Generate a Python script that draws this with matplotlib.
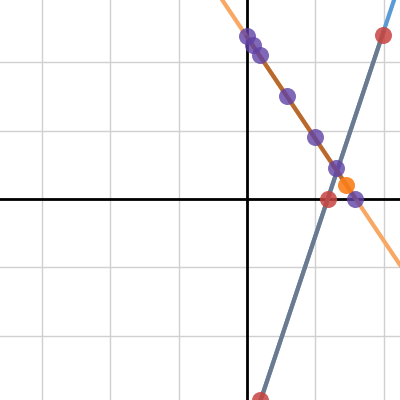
import matplotlib
matplotlib.use("Agg")
import matplotlib.pyplot as plt
import numpy as np

S = 68.4
xlim = (-247/S, 153/S)
ylim = (-201/S, 199/S)

# steep line y = m*(x - x0)
steep_m = 3.0
steep_x0 = 1.18
# falling line
fall_m = -1.49
fall_b = 2.37
red_x = [1.18, 0.19, 1.99]
red_y = [0.0, -2.94, 2.40]
purple_x = [0.0, 0.088, 0.19, 0.585, 0.994, 1.30, 1.58]
purple_y = [2.38, 2.25, 2.11, 1.51, 0.91, 0.45, 0.0]
orange_x = [1.45]
orange_y = [0.20]

fig = plt.figure(figsize=(4, 4), dpi=100)
ax = fig.add_axes([0, 0, 1, 1])
ax.set_xlim(*xlim); ax.set_ylim(*ylim)
for g in range(-4, 4):
    ax.axvline(g, color="#d0d0d0", lw=1, zorder=0)
    ax.axhline(g, color="#d0d0d0", lw=1, zorder=0)
ax.axvline(0, color="black", lw=2, zorder=1)
ax.axhline(0, color="black", lw=2, zorder=1)

xs = np.linspace(xlim[0], xlim[1], 200)
ax.plot(xs, steep_m*(xs-steep_x0), color="#5b9bd5", lw=3, zorder=2)
xs2 = np.linspace(min(red_x), max(red_x), 50)
ax.plot(xs2, steep_m*(xs2-steep_x0), color="#6c7a8f", lw=3, zorder=3)
ax.plot(xs, fall_m*xs+fall_b, color="#f8a864", lw=3, zorder=2)
xs3 = np.linspace(min(purple_x), max(purple_x), 50)
ax.plot(xs3, fall_m*xs3+fall_b, color="#b8692e", lw=3, zorder=3)

ax.scatter(red_x, red_y, s=150, color="#c74440", alpha=0.85, zorder=4, lw=0)
ax.scatter(purple_x, purple_y, s=150, color="#6042a6", alpha=0.8, zorder=5, lw=0)
ax.scatter(orange_x, orange_y, s=150, color="#fa7e19", alpha=0.9, zorder=6, lw=0)
ax.axis("off")
fig.savefig("out.png", dpi=100)
